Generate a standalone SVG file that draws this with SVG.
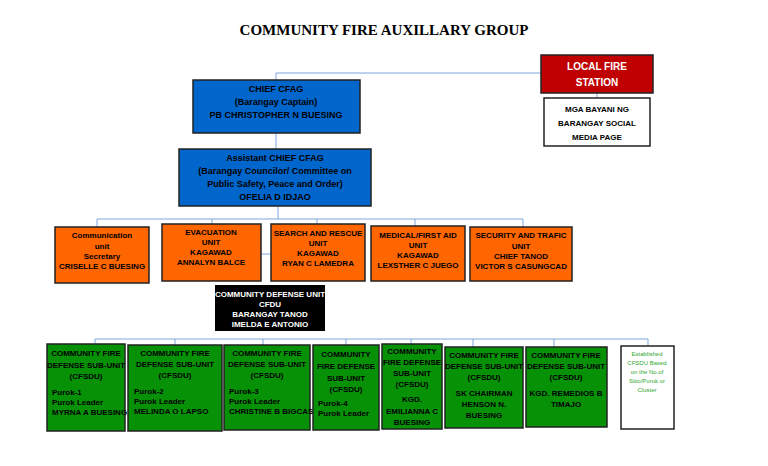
<svg xmlns="http://www.w3.org/2000/svg" width="768" height="466" viewBox="0 0 768 466">
<style>
text{font-family:"Liberation Sans",Arial,sans-serif;font-weight:bold;font-size:8px;text-anchor:middle;fill:#000}
.b{stroke:#222;stroke-width:1.5}
.t{font-size:9px}
.w{fill:#fff}
.l{text-anchor:start}
.c path{stroke:#7fa4dc;stroke-width:1;fill:none}
</style>
<rect width="768" height="466" fill="#fff"/>
<text x="384" y="35" style="font-family:'Liberation Serif',serif;font-size:15px">COMMUNITY FIRE AUXILLARY GROUP</text>
<g class="c" id="connectors">
<path d="M276 80V73H541M597 93V98M276 133V149M278 206V219M97 219H523M97 219V227M212 219V224M317 219V224M415 219V226M523 219V227M233 254H300M95 339H648M95 339V344M175 339V345M263 339V345M346 339V345M411 339V344M473 339V347M554 339V347M648 339V346"/>
</g>
<g id="fire"><rect class="b" x="541" y="55" width="112" height="38" fill="#C00000"/><text class="w" x="597" y="70" style="font-size:10px">LOCAL FIRE</text><text class="w" x="597" y="86" style="font-size:10px">STATION</text></g>
<g id="media"><rect class="b" x="544" y="98" width="106" height="48" fill="#fff"/><text x="597" y="112">MGA BAYANI NG</text><text x="597" y="126">BARANGAY SOCIAL</text><text x="597" y="140">MEDIA PAGE</text></g>
<g id="chief"><rect class="b" x="193" y="80" width="167" height="53" fill="#0066CC"/><text class="t" x="276" y="92">CHIEF CFAG</text><text class="t" x="276" y="105">(Barangay Captain)</text><text class="t" x="276" y="118">PB CHRISTOPHER N BUESING</text></g>
<g id="assistant"><rect class="b" x="179" y="149" width="192" height="57" fill="#0066CC"/><text class="t" x="275" y="161">Assistant CHIEF CFAG</text><text class="t" x="275" y="174">(Barangay Councilor/ Committee on</text><text class="t" x="275" y="187">Public Safety, Peace and Order)</text><text class="t" x="275" y="200">OFELIA D IDJAO</text></g>
<g id="comm"><rect class="b" x="55" y="227" width="94" height="56" fill="#FF6600"/><text x="102" y="238">Communication</text><text x="102" y="249">unit</text><text x="102" y="259">Secretary</text><text x="102" y="269">CRISELLE C BUESING</text></g>
<g id="evac"><rect class="b" x="162" y="224" width="99" height="57" fill="#FF6600"/><text x="211" y="235">EVACUATION</text><text x="211" y="245">UNIT</text><text x="211" y="255">KAGAWAD</text><text x="211" y="265">ANNALYN BALCE</text></g>
<g id="search"><rect class="b" x="271" y="224" width="94" height="57" fill="#FF6600"/><text x="318" y="236">SEARCH AND RESCUE</text><text x="318" y="246">UNIT</text><text x="318" y="256">KAGAWAD</text><text x="318" y="266">RYAN C LAMEDRA</text></g>
<g id="medical"><rect class="b" x="371" y="226" width="94" height="55" fill="#FF6600"/><text x="418" y="238">MEDICAL/FIRST AID</text><text x="418" y="248">UNIT</text><text x="418" y="258">KAGAWAD</text><text x="418" y="268">LEXSTHER C JUEGO</text></g>
<g id="security"><rect class="b" x="470" y="227" width="102" height="54" fill="#FF6600"/><text x="521" y="238">SECURITY AND TRAFIC</text><text x="521" y="249">UNIT</text><text x="521" y="259">CHIEF TANOD</text><text x="521" y="269">VICTOR S CASUNGCAD</text></g>
<g id="cdu"><rect x="215" y="285" width="110" height="46" fill="#000"/><text class="w" x="270" y="297">COMMUNITY DEFENSE UNIT</text><text class="w" x="270" y="307">CFDU</text><text class="w" x="270" y="317">BARANGAY TANOD</text><text class="w" x="270" y="327">IMELDA E ANTONIO</text></g>
<g id="p1"><rect class="b" x="47" y="344" width="78" height="87" fill="#079107"/><text x="86" y="356">COMMUNITY FIRE</text><text x="86" y="368">DEFENSE SUB-UNIT</text><text x="86" y="379">(CFSDU)</text><text class="l" x="52" y="395">Purok-1</text><text class="l" x="52" y="405">Purok Leader</text><text class="l" x="52" y="415">MYRNA A BUESING</text></g>
<g id="p2"><rect class="b" x="128" y="345" width="94" height="86" fill="#079107"/><text x="175" y="356">COMMUNITY FIRE</text><text x="175" y="367">DEFENSE SUB-UNIT</text><text x="175" y="378">(CFSDU)</text><text class="l" x="134" y="394">Purok-2</text><text class="l" x="134" y="404">Purok Leader</text><text class="l" x="134" y="414">MELINDA O LAPSO</text></g>
<g id="p3"><rect class="b" x="224" y="345" width="86" height="85" fill="#079107"/><text x="267" y="356">COMMUNITY FIRE</text><text x="267" y="367">DEFENSE SUB-UNIT</text><text x="267" y="378">(CFSDU)</text><text class="l" x="229" y="394">Purok-3</text><text class="l" x="229" y="404">Purok Leader</text><text class="l" x="229" y="414">CHRISTINE B BIGCAS</text></g>
<g id="p4"><rect class="b" x="313" y="345" width="66" height="85" fill="#079107"/><text x="346" y="357">COMMUNITY</text><text x="346" y="369">FIRE DEFENSE</text><text x="346" y="381">SUB-UNIT</text><text x="346" y="392">(CFSDU)</text><text class="l" x="318" y="406">Purok-4</text><text class="l" x="318" y="416">Purok Leader</text></g>
<g id="p5"><rect class="b" x="382" y="344" width="60" height="85" fill="#079107"/><text x="412" y="354">COMMUNITY</text><text x="412" y="365">FIRE DEFENSE</text><text x="412" y="376">SUB-UNIT</text><text x="412" y="387">(CFSDU)</text><text x="412" y="402">KGD.</text><text x="412" y="414">EMILIANNA C</text><text x="412" y="425">BUESING</text></g>
<g id="p6"><rect class="b" x="445" y="347" width="78" height="81" fill="#079107"/><text x="484" y="358">COMMUNITY FIRE</text><text x="484" y="369">DEFENSE SUB-UNIT</text><text x="484" y="380">(CFSDU)</text><text x="484" y="396">SK CHAIRMAN</text><text x="484" y="407">HENSON N.</text><text x="484" y="418">BUESING</text></g>
<g id="p7"><rect class="b" x="526" y="347" width="81" height="80" fill="#079107"/><text x="566" y="358">COMMUNITY FIRE</text><text x="566" y="369">DEFENSE SUB-UNIT</text><text x="566" y="380">(CFSDU)</text><text x="566" y="396">KGD. REMEDIOS B</text><text x="566" y="407">TIMAJO</text></g>
<g id="est"><rect class="b" x="621" y="346" width="53" height="83" fill="#fff"/><g style="font-weight:normal"><text x="647" y="356" style="font-size:6px;fill:#2fa82f;font-weight:normal">Established</text><text x="647" y="365" style="font-size:6px;fill:#2fa82f;font-weight:normal">CFSDU Based</text><text x="647" y="374" style="font-size:6px;fill:#2fa82f;font-weight:normal">on the No.of</text><text x="647" y="383" style="font-size:6px;fill:#2fa82f;font-weight:normal">Sitio/Purok or</text><text x="647" y="392" style="font-size:6px;fill:#2fa82f;font-weight:normal">Cluster</text></g></g>
</svg>
